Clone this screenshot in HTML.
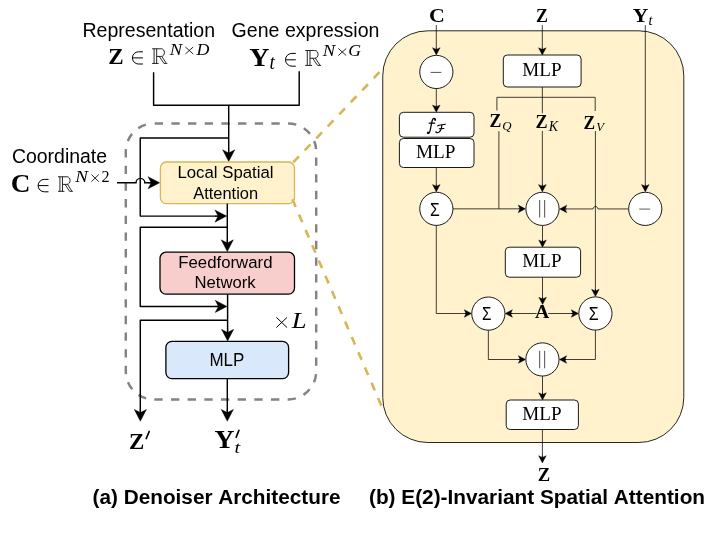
<!DOCTYPE html>
<html><head><meta charset="utf-8"><style>
html,body{margin:0;padding:0;background:#fff;}
body{width:720px;height:554px;overflow:hidden;}
svg{display:block;will-change:transform;}
text{font-kerning:none;}
</style></head><body>
<svg width="720" height="554" viewBox="0 0 720 554">
<rect x="0" y="0" width="720" height="554" fill="#fff"/>
<rect x="125.8" y="123.5" width="190.4" height="275.9" rx="28" ry="28" fill="none" stroke="#838383" stroke-width="2.45" stroke-dasharray="8.33 8.34" stroke-dashoffset="-0.9"/>
<text transform="translate(82.40,36.80) scale(1,1.035)" x="0" y="0" textLength="132.68" lengthAdjust="spacingAndGlyphs" font-family='"Liberation Sans", sans-serif' font-size="19.6" font-weight="normal" font-style="normal" fill="#000">Representation</text>
<text transform="translate(231.62,36.80) scale(1,1.035)" x="0" y="0" textLength="147.85" lengthAdjust="spacingAndGlyphs" font-family='"Liberation Sans", sans-serif' font-size="19.6" font-weight="normal" font-style="normal" fill="#000">Gene expression</text>
<text transform="translate(11.91,162.70) scale(1,1.035)" x="0" y="0" textLength="95.15" lengthAdjust="spacingAndGlyphs" font-family='"Liberation Sans", sans-serif' font-size="19.6" font-weight="normal" font-style="normal" fill="#000">Coordinate</text>
<text transform="translate(108.20,63.90) scale(0.9674,1)" font-family='"Liberation Serif", serif' font-size="23.82" font-weight="bold" font-style="normal" fill="#000">Z</text>
<path d="M142.90,51.80 L138.50,51.80 A6.10,6.10 0 0 0 138.50,64.00 L142.90,64.00 M132.40,57.90 L142.90,57.90" fill="none" stroke="#000" stroke-width="1.0"/>
<path d="M152.10,48.77 L161.22,48.77 C165.48,48.77 165.48,56.41 161.22,56.41 L156.66,56.41 M154.08,48.77 L154.08,63.43 M156.66,48.77 L156.66,63.43 M152.10,63.43 L158.64,63.43 M159.24,56.41 L163.96,63.43 L167.30,63.43 M161.83,56.41 L166.08,62.96" fill="none" stroke="#000" stroke-width="0.85" stroke-linejoin="miter"/>
<text transform="translate(169.64,54.50) scale(1.0774,1)" font-family='"Liberation Serif", serif' font-size="17.26" font-weight="normal" font-style="italic" fill="#000">N</text>
<path d="M185.40,47.00 L193.20,54.00 M193.20,47.00 L185.40,54.00" stroke="#000" stroke-width="0.85" fill="none"/>
<text transform="translate(196.45,54.67) scale(1.0217,1)" font-family='"Liberation Serif", serif' font-size="17.51" font-weight="normal" font-style="italic" fill="#000">D</text>
<text transform="translate(249.21,65.90) scale(1.1534,1)" font-family='"Liberation Serif", serif' font-size="24.28" font-weight="bold" font-style="normal" fill="#000">Y</text>
<text transform="translate(269.45,68.99) scale(0.8843,1)" font-family='"Liberation Serif", serif' font-size="21.82" font-weight="normal" font-style="italic" fill="#000">t</text>
<path d="M295.80,53.40 L291.90,53.40 A6.40,6.40 0 0 0 291.90,66.20 L295.80,66.20 M285.50,59.80 L295.80,59.80" fill="none" stroke="#000" stroke-width="1.0"/>
<path d="M305.20,50.48 L314.74,50.48 C319.19,50.48 319.19,58.27 314.74,58.27 L309.97,58.27 M307.27,50.48 L307.27,65.42 M309.97,50.48 L309.97,65.42 M305.20,65.42 L312.04,65.42 M312.67,58.27 L317.60,65.42 L321.10,65.42 M315.38,58.27 L319.83,64.95" fill="none" stroke="#000" stroke-width="0.85" stroke-linejoin="miter"/>
<text transform="translate(322.64,56.30) scale(1.0774,1)" font-family='"Liberation Serif", serif' font-size="17.26" font-weight="normal" font-style="italic" fill="#000">N</text>
<path d="M338.40,48.50 L346.20,55.50 M346.20,48.50 L338.40,55.50" stroke="#000" stroke-width="0.85" fill="none"/>
<text transform="translate(348.27,56.35) scale(1.0259,1)" font-family='"Liberation Serif", serif' font-size="17.29" font-weight="normal" font-style="italic" fill="#000">G</text>
<text transform="translate(10.77,191.86) scale(1.1251,1)" font-family='"Liberation Serif", serif' font-size="24.26" font-weight="bold" font-style="normal" fill="#000">C</text>
<path d="M48.50,179.40 L44.30,179.40 A6.20,6.20 0 0 0 44.30,191.80 L48.50,191.80 M38.10,185.60 L48.50,185.60" fill="none" stroke="#000" stroke-width="1.0"/>
<path d="M58.00,176.77 L66.94,176.77 C71.11,176.77 71.11,184.36 66.94,184.36 L62.47,184.36 M59.94,176.77 L59.94,191.34 M62.47,176.77 L62.47,191.34 M58.00,191.34 L64.41,191.34 M65.00,184.36 L69.62,191.34 L72.90,191.34 M67.54,184.36 L71.71,190.87" fill="none" stroke="#000" stroke-width="0.85" stroke-linejoin="miter"/>
<text transform="translate(75.24,182.30) scale(1.1015,1)" font-family='"Liberation Serif", serif' font-size="17.26" font-weight="normal" font-style="italic" fill="#000">N</text>
<path d="M91.40,174.50 L98.80,181.70 M98.80,174.50 L91.40,181.70" stroke="#000" stroke-width="0.85" fill="none"/>
<text transform="translate(101.49,182.10) scale(0.9849,1)" font-family='"Liberation Serif", serif' font-size="16.46" font-weight="normal" font-style="normal" fill="#000">2</text>
<path d="M153.60,72.30 L153.60,105.20 L299.20,105.20 L299.20,71.30" fill="none" stroke="#000" stroke-width="1.45" stroke-linejoin="round"/>
<path d="M228.70,105.20 L228.70,155.00" fill="none" stroke="#000" stroke-width="1.45" />
<path d="M228.70,149.80 L228.70,159.60" stroke="#000" stroke-width="1.0"/>
<polygon points="228.70,161.60 222.60,149.80 228.70,153.00 234.80,149.80" fill="#000" stroke="#000" stroke-width="0.4" stroke-linejoin="miter" stroke-miterlimit="10"/>
<path d="M228.70,138.00 L140.25,138.00 L140.25,216.10 L220.00,216.10" fill="none" stroke="#000" stroke-width="1.45" stroke-linejoin="round"/>
<path d="M214.90,216.10 L224.70,216.10" stroke="#000" stroke-width="1.0"/>
<polygon points="226.70,216.10 214.90,222.20 218.10,216.10 214.90,210.00" fill="#000" stroke="#000" stroke-width="0.4" stroke-linejoin="miter" stroke-miterlimit="10"/>
<path d="M117,182.75 L136,182.75 A4.4,4.4 0 0 1 144.8,182.75 L153,182.75" fill="none" stroke="#000" stroke-width="1.45"/>
<path d="M148.00,182.75 L157.80,182.75" stroke="#000" stroke-width="1.0"/>
<polygon points="159.80,182.75 148.00,188.85 151.20,182.75 148.00,176.65" fill="#000" stroke="#000" stroke-width="0.4" stroke-linejoin="miter" stroke-miterlimit="10"/>
<rect x="160.4" y="162" width="134.10" height="41.60" rx="6" ry="6" fill="#fff2cc" stroke="#d6b656" stroke-width="1.3" />
<text transform="translate(177.42,177.80) scale(1,1.035)" x="0" y="0" textLength="96.10" lengthAdjust="spacingAndGlyphs" font-family='"Liberation Sans", sans-serif' font-size="16.8" font-weight="normal" font-style="normal" fill="#000">Local Spatial</text>
<text transform="translate(193.22,198.70) scale(1,1.035)" x="0" y="0" textLength="64.85" lengthAdjust="spacingAndGlyphs" font-family='"Liberation Sans", sans-serif' font-size="16.8" font-weight="normal" font-style="normal" fill="#000">Attention</text>
<path d="M227.30,203.60 L227.30,245.00" fill="none" stroke="#000" stroke-width="1.45" />
<path d="M227.30,239.80 L227.30,249.60" stroke="#000" stroke-width="1.0"/>
<polygon points="227.30,251.60 221.20,239.80 227.30,243.00 233.40,239.80" fill="#000" stroke="#000" stroke-width="0.4" stroke-linejoin="miter" stroke-miterlimit="10"/>
<path d="M227.30,227.30 L140.25,227.30 L140.25,306.40 L220.00,306.40" fill="none" stroke="#000" stroke-width="1.45" stroke-linejoin="round"/>
<path d="M215.20,306.40 L225.00,306.40" stroke="#000" stroke-width="1.0"/>
<polygon points="227.00,306.40 215.20,312.50 218.40,306.40 215.20,300.30" fill="#000" stroke="#000" stroke-width="0.4" stroke-linejoin="miter" stroke-miterlimit="10"/>
<rect x="160" y="252.2" width="134.50" height="41.90" rx="6" ry="6" fill="#f8cecc" stroke="#000" stroke-width="1.3" />
<text transform="translate(178.22,267.60) scale(1,1.035)" x="0" y="0" textLength="94.26" lengthAdjust="spacingAndGlyphs" font-family='"Liberation Sans", sans-serif' font-size="16.8" font-weight="normal" font-style="normal" fill="#000">Feedforward</text>
<text transform="translate(194.53,288.30) scale(1,1.035)" x="0" y="0" textLength="61.14" lengthAdjust="spacingAndGlyphs" font-family='"Liberation Sans", sans-serif' font-size="16.8" font-weight="normal" font-style="normal" fill="#000">Network</text>
<path d="M227.60,294.10 L227.60,334.00" fill="none" stroke="#000" stroke-width="1.45" />
<path d="M227.60,329.30 L227.60,339.10" stroke="#000" stroke-width="1.0"/>
<polygon points="227.60,341.10 221.50,329.30 227.60,332.50 233.70,329.30" fill="#000" stroke="#000" stroke-width="0.4" stroke-linejoin="miter" stroke-miterlimit="10"/>
<path d="M227.60,320.30 L140.30,320.30 L140.30,414.00" fill="none" stroke="#000" stroke-width="1.45" stroke-linejoin="round"/>
<path d="M140.35,409.40 L140.35,419.20" stroke="#000" stroke-width="1.0"/>
<polygon points="140.35,421.20 134.25,409.40 140.35,412.60 146.45,409.40" fill="#000" stroke="#000" stroke-width="0.4" stroke-linejoin="miter" stroke-miterlimit="10"/>
<rect x="165.9" y="341.4" width="122.70" height="37.20" rx="6" ry="6" fill="#dae8fc" stroke="#000" stroke-width="1.3" />
<text transform="translate(209.46,365.80) scale(1,1.035)" x="0" y="0" textLength="34.94" lengthAdjust="spacingAndGlyphs" font-family='"Liberation Sans", sans-serif' font-size="17.1" font-weight="normal" font-style="normal" fill="#000">MLP</text>
<path d="M227.30,378.60 L227.30,414.00" fill="none" stroke="#000" stroke-width="1.45" />
<path d="M227.30,409.40 L227.30,419.20" stroke="#000" stroke-width="1.0"/>
<polygon points="227.30,421.20 221.20,409.40 227.30,412.60 233.40,409.40" fill="#000" stroke="#000" stroke-width="0.4" stroke-linejoin="miter" stroke-miterlimit="10"/>
<path d="M276.35,317.35 L287.05,327.55 M287.05,317.35 L276.35,327.55" stroke="#000" stroke-width="1.0" fill="none"/>
<text transform="translate(291.71,328.30) scale(1.1429,1)" font-family='"Liberation Serif", serif' font-size="23.37" font-weight="normal" font-style="italic" fill="#000">L</text>
<text transform="translate(129.01,448.90) scale(0.9725,1)" font-family='"Liberation Serif", serif' font-size="23.52" font-weight="bold" font-style="normal" fill="#000">Z</text>
<path d="M146.3,438.5 L149.2,431.5" stroke="#000" stroke-width="1.7" stroke-linecap="round"/>
<text transform="translate(214.52,447.90) scale(1.1425,1)" font-family='"Liberation Serif", serif' font-size="24.13" font-weight="bold" font-style="normal" fill="#000">Y</text>
<path d="M236.2,437.3 L238.9,430.3" stroke="#000" stroke-width="1.7" stroke-linecap="round"/>
<text transform="translate(234.50,453.43) scale(1.1848,1)" font-family='"Liberation Serif", serif' font-size="17.28" font-weight="normal" font-style="italic" fill="#000">t</text>
<text transform="translate(92.57,503.60) scale(1,1.035)" x="0" y="0" textLength="247.94" lengthAdjust="spacingAndGlyphs" font-family='"Liberation Sans", sans-serif' font-size="20.4" font-weight="bold" font-style="normal" fill="#000">(a) Denoiser Architecture</text>
<text transform="translate(368.96,503.70) scale(1,1.035)" x="0" y="0" textLength="336.07" lengthAdjust="spacingAndGlyphs" font-family='"Liberation Sans", sans-serif' font-size="20.4" font-weight="bold" font-style="normal" fill="#000">(b) E(2)-Invariant Spatial Attention</text>
<path d="M293.2,162.4 L387,64.4" fill="none" stroke="#d6b656" stroke-width="2.6" stroke-dasharray="8.3 8.35"/>
<path d="M292.4,199.3 L381.4,405.7" fill="none" stroke="#d6b656" stroke-width="2.6" stroke-dasharray="8.3 8.35"/>
<rect x="382.75" y="30.8" width="301.05" height="411.70" rx="45" ry="45" fill="#fff2cc" stroke="#000" stroke-width="0.85" />
<text transform="translate(428.93,21.81) scale(1.1470,1)" font-family='"Liberation Serif", serif' font-size="19.13" font-weight="bold" font-style="normal" fill="#000">C</text>
<text transform="translate(536.00,21.80) scale(0.9400,1)" font-family='"Liberation Serif", serif' font-size="19.00" font-weight="bold" font-style="normal" fill="#000">Z</text>
<text transform="translate(632.72,21.80) scale(1.1175,1)" font-family='"Liberation Serif", serif' font-size="19.32" font-weight="bold" font-style="normal" fill="#000">Y</text>
<text transform="translate(648.57,24.56) scale(1.0165,1)" font-family='"Liberation Serif", serif' font-size="14.14" font-weight="normal" font-style="italic" fill="#000">t</text>
<path d="M436.30,25.00 L436.30,48.00" fill="none" stroke="#000" stroke-width="0.75" />
<path d="M436.30,47.70 L436.30,52.90" stroke="#000" stroke-width="1.0"/>
<polygon points="436.30,54.90 432.50,47.70 436.30,49.40 440.10,47.70" fill="#000" stroke="#000" stroke-width="0.4" stroke-linejoin="miter" stroke-miterlimit="10"/>
<circle cx="436.35" cy="71.95" r="16.6" fill="#fff" stroke="#000" stroke-width="0.9"/>
<path d="M430.60,72.40 L441.40,72.40" fill="none" stroke="#555" stroke-width="1" />
<path d="M436.30,88.50 L436.30,105.00" fill="none" stroke="#000" stroke-width="0.75" />
<path d="M436.30,105.10 L436.30,110.30" stroke="#000" stroke-width="1.0"/>
<polygon points="436.30,112.30 432.50,105.10 436.30,106.80 440.10,105.10" fill="#000" stroke="#000" stroke-width="0.4" stroke-linejoin="miter" stroke-miterlimit="10"/>
<rect x="399.4" y="112.3" width="74.60" height="24.90" rx="4" ry="4" fill="#fff" stroke="#000" stroke-width="0.9" />
<rect x="399.4" y="138.5" width="74.60" height="29.00" rx="4" ry="4" fill="#fff" stroke="#000" stroke-width="0.9" />
<path d="M435.5,119.9 C435.5,118.3 433.7,117.9 432.7,119.3 C431.7,120.8 431.1,126.8 430.1,130.6 C429.5,132.9 428.5,133.9 427.5,133.3 M429.2,123.2 L434.6,123.2" fill="none" stroke="#000" stroke-width="1.25" stroke-linecap="round"/><circle cx="435.0" cy="119.8" r="0.95" fill="#000"/><circle cx="428.0" cy="132.5" r="0.95" fill="#000"/>
<path d="M437.6,125.9 C439.2,124.7 442.6,124.9 445.3,124.2 M441.9,125.1 C441.6,128.2 440.2,132.7 437.2,132.7 C436.2,132.7 435.6,132.1 436,131.5 M439.3,128.8 L443.9,128.5" fill="none" stroke="#000" stroke-width="1.15" stroke-linecap="round"/>
<text transform="translate(415.95,157.70) scale(1.0150,1)" font-family='"Liberation Serif", serif' font-size="18.94" font-weight="normal" font-style="normal" fill="#000">MLP</text>
<path d="M436.30,167.50 L436.30,185.00" fill="none" stroke="#000" stroke-width="0.75" />
<path d="M436.30,184.60 L436.30,189.80" stroke="#000" stroke-width="1.0"/>
<polygon points="436.30,191.80 432.50,184.60 436.30,186.30 440.10,184.60" fill="#000" stroke="#000" stroke-width="0.4" stroke-linejoin="miter" stroke-miterlimit="10"/>
<circle cx="436.35" cy="208.8" r="16.6" fill="#fff" stroke="#000" stroke-width="0.9"/>
<text transform="translate(429.97,215.70) scale(0.8418,1)" font-family='"Liberation Sans", sans-serif' font-size="18.75" font-weight="normal" font-style="normal" fill="#000">Σ</text>
<path d="M542.30,25.10 L542.30,48.00" fill="none" stroke="#000" stroke-width="0.75" />
<path d="M542.30,47.80 L542.30,53.00" stroke="#000" stroke-width="1.0"/>
<polygon points="542.30,55.00 538.50,47.80 542.30,49.50 546.10,47.80" fill="#000" stroke="#000" stroke-width="0.4" stroke-linejoin="miter" stroke-miterlimit="10"/>
<rect x="503.3" y="55" width="77.80" height="32.00" rx="4" ry="4" fill="#fff" stroke="#000" stroke-width="0.9" />
<text transform="translate(522.35,76.20) scale(1.0320,1)" font-family='"Liberation Serif", serif' font-size="18.48" font-weight="normal" font-style="normal" fill="#000">MLP</text>
<path d="M542.35,87.00 L542.35,113.30" fill="none" stroke="#000" stroke-width="0.75" />
<path d="M496.90,110.50 L496.90,97.30 L595.20,97.30 L595.20,111.00" fill="none" stroke="#000" stroke-width="0.75" />
<text transform="translate(489.45,127.30) scale(0.9697,1)" font-family='"Liberation Serif", serif' font-size="18.33" font-weight="bold" font-style="normal" fill="#000">Z</text>
<text transform="translate(502.19,129.62) scale(1.0013,1)" font-family='"Liberation Serif", serif' font-size="12.86" font-weight="normal" font-style="italic" fill="#000">Q</text>
<text transform="translate(535.43,127.60) scale(1.0056,1)" font-family='"Liberation Serif", serif' font-size="18.02" font-weight="bold" font-style="normal" fill="#000">Z</text>
<text transform="translate(548.86,130.50) scale(1.0182,1)" font-family='"Liberation Serif", serif' font-size="13.74" font-weight="normal" font-style="italic" fill="#000">K</text>
<text transform="translate(583.47,128.70) scale(0.9584,1)" font-family='"Liberation Serif", serif' font-size="18.17" font-weight="bold" font-style="normal" fill="#000">Z</text>
<text transform="translate(596.23,131.01) scale(0.9934,1)" font-family='"Liberation Serif", serif' font-size="12.84" font-weight="normal" font-style="italic" fill="#000">V</text>
<path d="M498.90,131.20 L498.90,208.80" fill="none" stroke="#000" stroke-width="0.75" />
<path d="M542.35,131.00 L542.35,185.00" fill="none" stroke="#000" stroke-width="0.75" />
<path d="M542.35,184.60 L542.35,189.80" stroke="#000" stroke-width="1.0"/>
<polygon points="542.35,191.80 538.55,184.60 542.35,186.30 546.15,184.60" fill="#000" stroke="#000" stroke-width="0.4" stroke-linejoin="miter" stroke-miterlimit="10"/>
<path d="M595.40,131.00 L595.40,290.00" fill="none" stroke="#000" stroke-width="0.75" />
<path d="M595.40,289.30 L595.40,294.50" stroke="#000" stroke-width="1.0"/>
<polygon points="595.40,296.50 591.60,289.30 595.40,291.00 599.20,289.30" fill="#000" stroke="#000" stroke-width="0.4" stroke-linejoin="miter" stroke-miterlimit="10"/>
<path d="M453.00,208.85 L518.00,208.85" fill="none" stroke="#000" stroke-width="0.75" />
<path d="M518.20,208.85 L523.40,208.85" stroke="#000" stroke-width="1.0"/>
<polygon points="525.40,208.85 518.20,212.65 519.90,208.85 518.20,205.05" fill="#000" stroke="#000" stroke-width="0.4" stroke-linejoin="miter" stroke-miterlimit="10"/>
<circle cx="542.5" cy="208.85" r="16.6" fill="#fff" stroke="#000" stroke-width="0.9"/>
<path d="M539.60,200.10 L539.60,217.60" fill="none" stroke="#666" stroke-width="1.15" />
<path d="M544.60,200.10 L544.60,217.60" fill="none" stroke="#666" stroke-width="1.15" />
<path d="M645.30,25.10 L645.30,185.00" fill="none" stroke="#000" stroke-width="0.75" />
<path d="M645.30,184.60 L645.30,189.80" stroke="#000" stroke-width="1.0"/>
<polygon points="645.30,191.80 641.50,184.60 645.30,186.30 649.10,184.60" fill="#000" stroke="#000" stroke-width="0.4" stroke-linejoin="miter" stroke-miterlimit="10"/>
<circle cx="645.25" cy="208.85" r="16.6" fill="#fff" stroke="#000" stroke-width="0.9"/>
<path d="M639.20,209.10 L650.20,209.10" fill="none" stroke="#777" stroke-width="1.2" />
<path d="M628.2,208.95 L598,208.95 C597.3,205.6 593.7,205.6 593,208.95 L566.5,208.95" fill="none" stroke="#000" stroke-width="0.75"/>
<path d="M566.80,208.95 L561.60,208.95" stroke="#000" stroke-width="1.0"/>
<polygon points="559.60,208.95 566.80,205.15 565.10,208.95 566.80,212.75" fill="#000" stroke="#000" stroke-width="0.4" stroke-linejoin="miter" stroke-miterlimit="10"/>
<path d="M542.50,225.90 L542.50,240.00" fill="none" stroke="#000" stroke-width="0.75" />
<path d="M542.50,240.00 L542.50,245.20" stroke="#000" stroke-width="1.0"/>
<polygon points="542.50,247.20 538.70,240.00 542.50,241.70 546.30,240.00" fill="#000" stroke="#000" stroke-width="0.4" stroke-linejoin="miter" stroke-miterlimit="10"/>
<rect x="505.3" y="247.2" width="75.30" height="30.00" rx="4" ry="4" fill="#fff" stroke="#000" stroke-width="0.9" />
<text transform="translate(522.35,267.00) scale(1.0583,1)" font-family='"Liberation Serif", serif' font-size="18.02" font-weight="normal" font-style="normal" fill="#000">MLP</text>
<path d="M542.50,277.20 L542.50,298.00" fill="none" stroke="#000" stroke-width="0.75" />
<path d="M542.60,297.30 L542.60,302.50" stroke="#000" stroke-width="1.0"/>
<polygon points="542.60,304.50 538.80,297.30 542.60,299.00 546.40,297.30" fill="#000" stroke="#000" stroke-width="0.4" stroke-linejoin="miter" stroke-miterlimit="10"/>
<text transform="translate(535.01,317.80) scale(1.0668,1)" font-family='"Liberation Serif", serif' font-size="18.48" font-weight="bold" font-style="normal" fill="#000">A</text>
<path d="M536.70,313.50 L512.00,313.50" fill="none" stroke="#000" stroke-width="0.75" />
<path d="M512.40,313.50 L507.20,313.50" stroke="#000" stroke-width="1.0"/>
<polygon points="505.20,313.50 512.40,309.70 510.70,313.50 512.40,317.30" fill="#000" stroke="#000" stroke-width="0.4" stroke-linejoin="miter" stroke-miterlimit="10"/>
<path d="M548.20,313.50 L572.00,313.50" fill="none" stroke="#000" stroke-width="0.75" />
<path d="M571.30,313.50 L576.50,313.50" stroke="#000" stroke-width="1.0"/>
<polygon points="578.50,313.50 571.30,317.30 573.00,313.50 571.30,309.70" fill="#000" stroke="#000" stroke-width="0.4" stroke-linejoin="miter" stroke-miterlimit="10"/>
<path d="M436.30,225.50 L436.30,313.50 L464.50,313.50" fill="none" stroke="#000" stroke-width="0.75" />
<path d="M464.30,313.50 L469.50,313.50" stroke="#000" stroke-width="1.0"/>
<polygon points="471.50,313.50 464.30,317.30 466.00,313.50 464.30,309.70" fill="#000" stroke="#000" stroke-width="0.4" stroke-linejoin="miter" stroke-miterlimit="10"/>
<circle cx="488.35" cy="313.6" r="16.6" fill="#fff" stroke="#000" stroke-width="0.9"/>
<text transform="translate(482.10,319.80) scale(0.8407,1)" font-family='"Liberation Sans", sans-serif' font-size="18.10" font-weight="normal" font-style="normal" fill="#000">Σ</text>
<circle cx="595.4" cy="313.5" r="16.6" fill="#fff" stroke="#000" stroke-width="0.9"/>
<text transform="translate(588.86,319.80) scale(0.8722,1)" font-family='"Liberation Sans", sans-serif' font-size="18.31" font-weight="normal" font-style="normal" fill="#000">Σ</text>
<path d="M488.35,330.30 L488.35,359.50 L519.00,359.50" fill="none" stroke="#000" stroke-width="0.75" />
<path d="M518.40,359.50 L523.60,359.50" stroke="#000" stroke-width="1.0"/>
<polygon points="525.60,359.50 518.40,363.30 520.10,359.50 518.40,355.70" fill="#000" stroke="#000" stroke-width="0.4" stroke-linejoin="miter" stroke-miterlimit="10"/>
<path d="M595.40,330.20 L595.40,359.50 L566.50,359.50" fill="none" stroke="#000" stroke-width="0.75" />
<path d="M566.60,359.50 L561.40,359.50" stroke="#000" stroke-width="1.0"/>
<polygon points="559.40,359.50 566.60,355.70 564.90,359.50 566.60,363.30" fill="#000" stroke="#000" stroke-width="0.4" stroke-linejoin="miter" stroke-miterlimit="10"/>
<circle cx="542.45" cy="359.45" r="16.6" fill="#fff" stroke="#000" stroke-width="0.9"/>
<path d="M539.60,350.75 L539.60,368.20" fill="none" stroke="#666" stroke-width="1.15" />
<path d="M544.60,350.75 L544.60,368.20" fill="none" stroke="#666" stroke-width="1.15" />
<path d="M542.50,376.10 L542.50,393.00" fill="none" stroke="#000" stroke-width="0.75" />
<path d="M542.50,392.80 L542.50,398.00" stroke="#000" stroke-width="1.0"/>
<polygon points="542.50,400.00 538.70,392.80 542.50,394.50 546.30,392.80" fill="#000" stroke="#000" stroke-width="0.4" stroke-linejoin="miter" stroke-miterlimit="10"/>
<rect x="506.2" y="400" width="72.20" height="29.50" rx="4" ry="4" fill="#fff" stroke="#000" stroke-width="0.9" />
<text transform="translate(522.35,419.70) scale(1.0071,1)" font-family='"Liberation Serif", serif' font-size="18.94" font-weight="normal" font-style="normal" fill="#000">MLP</text>
<path d="M542.40,429.50 L542.40,456.00" fill="none" stroke="#000" stroke-width="0.75" />
<path d="M542.40,455.70 L542.40,460.90" stroke="#000" stroke-width="1.0"/>
<polygon points="542.40,462.90 538.60,455.70 542.40,457.40 546.20,455.70" fill="#000" stroke="#000" stroke-width="0.4" stroke-linejoin="miter" stroke-miterlimit="10"/>
<text transform="translate(537.71,480.70) scale(1.0262,1)" font-family='"Liberation Serif", serif' font-size="18.17" font-weight="bold" font-style="normal" fill="#000">Z</text>
</svg>
</body></html>
